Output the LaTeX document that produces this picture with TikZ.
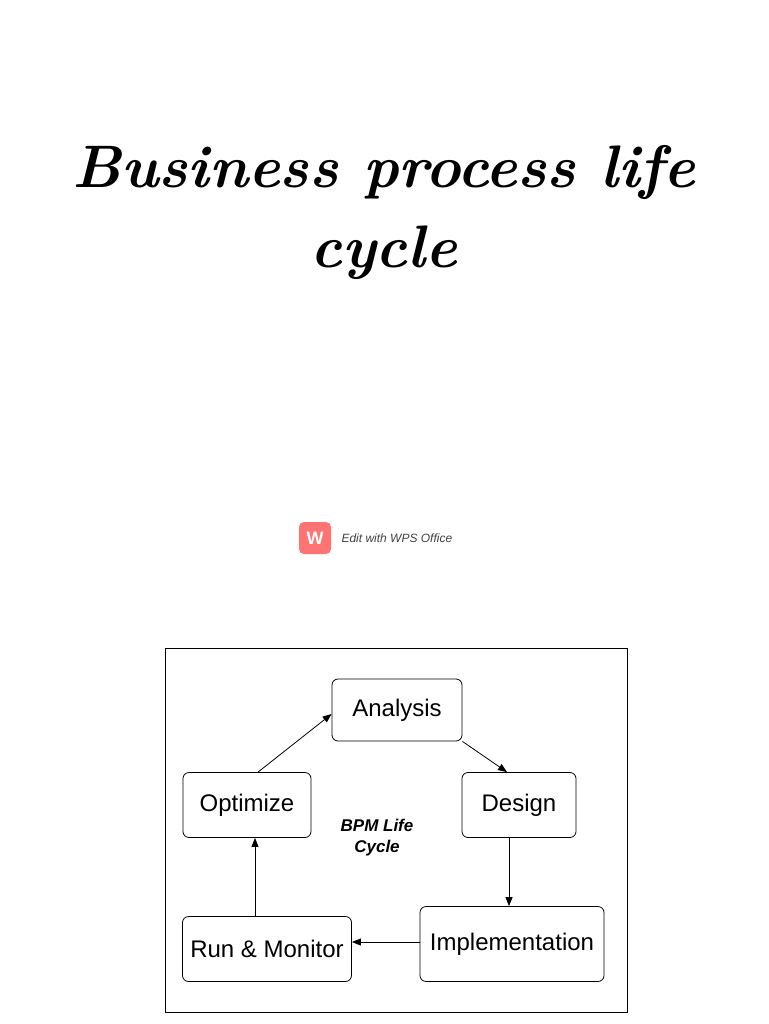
\documentclass[tikz,border=0pt]{standalone}
\usepackage{fontspec}
\setmainfont{Liberation Sans}
\newfontfamily\titlefont{Latin Modern Roman}
\usetikzlibrary{arrows.meta}
\begin{document}
\begin{tikzpicture}[x=1pt,y=-1pt,
  box/.style={draw,thick,rounded corners=6pt,font=\fontsize{24}{28}\selectfont},
  arr/.style={-{Triangle[length=9pt,width=7pt]},thick}]
\useasboundingbox (0,0) rectangle (768,1024);
\node[font=\titlefont\itshape\bfseries\fontsize{60}{80}\selectfont,align=center] (title) at (384,212) {Business process life\\cycle};
\node[fill=red!55!white,rounded corners=5pt,minimum size=32pt,text=white,font=\bfseries\fontsize{18}{18}\selectfont] (logo) at (315,538) {W};
\node[anchor=west,font=\itshape\fontsize{12}{12}\selectfont,text=black!75] (wps) at (338,538) {Edit with WPS Office};
\draw[thick] (165,648) rectangle (627,1012);
\node[box,minimum width=130pt,minimum height=62pt] (an) at (397,710) {Analysis};
\node[box,minimum width=114pt,minimum height=65pt] (de) at (519,805) {Design};
\node[box,minimum width=128pt,minimum height=65pt] (op) at (247,805) {Optimize};
\node[box,minimum width=184pt,minimum height=75pt] (im) at (512,944) {Implementation};
\node[box,minimum width=169pt,minimum height=65pt] (ru) at (267,949) {Run \& Monitor};
\node[font=\bfseries\itshape\fontsize{17}{21}\selectfont,align=center] (bpm) at (377,838) {BPM Life\\Cycle};
\draw[arr] (op.north -| 258,0) -- (an.west |- 0,714);
\draw[arr] (an.south east) -- (de.north -| 507,0);
\draw[arr] (de.south -| 509,0) -- (im.north -| 509,0);
\draw[arr] (im.west |- 0,942) -- (ru.east |- 0,942);
\draw[arr] (ru.north -| 255,0) -- (op.south -| 255,0);
\end{tikzpicture}
\end{document}
